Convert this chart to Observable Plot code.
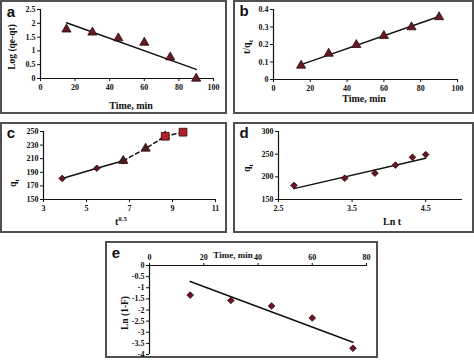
<!DOCTYPE html>
<html><head><meta charset="utf-8">
<script src="https://cdn.jsdelivr.net/npm/d3@7"></script>
<script src="https://cdn.jsdelivr.net/npm/@observablehq/plot@0.6"></script>
<style>
body{margin:0;background:#fff;}
#fig{position:relative;width:474px;height:360px;overflow:hidden;font-family:"Liberation Serif",serif;background:#fff;}
.panel{position:absolute;box-sizing:border-box;border:2px solid #505050;background:#fff;}
.lbl{position:absolute;font-weight:bold;font-size:10px;white-space:nowrap;color:#111;line-height:1;transform:translate(-50%,-50%);}
.rot{transform:translate(-50%,-50%) rotate(-90deg);}
.tag{position:absolute;font-family:"Liberation Sans",Arial,sans-serif;font-weight:bold;font-size:15px;line-height:1;transform:translate(-50%,-50%);color:#111;}
sub,sup{font-size:70%;line-height:0;}
</style>
</head><body>
<div id="fig"></div>
<script>
// ---- data ----
const timeMin = [15, 30, 45, 60, 75, 90];
const logQeQt = [1.78, 1.67, 1.46, 1.30, 0.77, 0];
const logFitX = [15, 90];
const logFitY = [2.02, 0.33];

const tOverQt = [0.080, 0.148, 0.198, 0.250, 0.299, 0.357];
const tqFitX = [15, 90];
const tqFitY = [0.085, 0.36];

const sqrtT1 = [3.87, 5.48, 6.71];
const qt1 = [181, 196, 207];
const sqrtT2 = [6.71, 7.75, 8.66];
const qt2 = [207, 225, 243];
const sqrtT3 = [8.66, 9.49];
const qt3 = [243, 249];

const lnT = [2.71, 3.40, 3.81, 4.09, 4.32, 4.50];
const qtD = [181, 197, 208, 226, 243, 249];
const qtFitX = [2.71, 4.50];
const qtFitY = [174, 241];

const timeE = [15, 30, 45, 60, 75];
const lnOneMinusF = [-1.33, -1.57, -1.82, -2.36, -3.72];
const lnFitX = [15, 75];
const lnFitY = [-0.72, -3.45];

const ticksA = {x: [0, 20, 40, 60, 80, 100], y: [0, 0.5, 1, 1.5, 2, 2.5]};
const ticksB = {x: [0, 20, 40, 60, 80, 100], y: [0, 0.1, 0.2, 0.3, 0.4]};
const ticksC = {x: [3, 5, 7, 9, 11], y: [150, 170, 190, 210, 230, 250]};
const ticksD = {x: [2.5, 3.5, 4.5], y: [150, 200, 250, 300]};
const ticksE = {x: [0, 20, 40, 60, 80], y: [0, -0.5, -1, -1.5, -2, -2.5, -3, -3.5, -4]};

// ---- helpers ----
const fig = document.getElementById("fig");
const fmt = d => String(d);
const style = {fontFamily: "'Liberation Serif', serif", fontSize: "8px", fontWeight: "bold", background: "transparent", color: "#111", overflow: "visible"};
const INK = "#111";
const MAROON = "#661b24", MAROON_DK = "#2c090d";

function panel(l, t, w, h) {
  const d = document.createElement("div");
  d.className = "panel";
  Object.assign(d.style, {left: l + "px", top: t + "px", width: w + "px", height: h + "px"});
  fig.appendChild(d);
}
function place(svg, l, t) {
  svg.style.position = "absolute";
  svg.style.left = l + "px";
  svg.style.top = t + "px";
  fig.appendChild(svg);
}
function label(html, x, y, cls, size) {
  const d = document.createElement("div");
  d.className = cls;
  d.innerHTML = html;
  d.style.left = x + "px";
  d.style.top = y + "px";
  if (size) d.style.fontSize = size + "px";
  fig.appendChild(d);
}
function idx(n) { return Array.from({length: n}, (_, i) => i); }
function fitLine(xs, ys, extra = {}) {
  return Plot.line(idx(xs.length), {x: xs, y: ys, stroke: INK, strokeWidth: 1.5, ...extra});
}
function dots(xs, ys, symbol, r, fill = MAROON) {
  return Plot.dot(idx(xs.length), {x: xs, y: ys, symbol, r, fill, stroke: MAROON_DK, strokeWidth: 0.8});
}
function axes(t, xmin, ymin, xAnchor = "bottom") {
  return [
    Plot.ruleX([xmin], {stroke: INK, strokeWidth: 1.2}),
    Plot.ruleY([ymin], {stroke: INK, strokeWidth: 1.2}),
    Plot.axisX({anchor: xAnchor, ticks: t.x, tickSize: 3, tickPadding: 3, tickFormat: fmt, label: null}),
    Plot.axisY({ticks: t.y, tickSize: 3, tickPadding: 2, tickFormat: fmt, label: null})
  ];
}

// ---- frames ----
panel(0, 0, 227, 114);
panel(233, 0, 241, 114);
panel(0, 122, 227, 111);
panel(233, 122, 241, 111);
panel(105, 241, 273, 117);

// ---- panel a ----
place(Plot.plot({
  width: 228, height: 113, marginLeft: 40, marginRight: 15, marginTop: 9, marginBottom: 35,
  x: {domain: [0, 100]}, y: {domain: [0, 2.5]}, style,
  marks: [
    ...axes(ticksA, 0, 0),
    fitLine(logFitX, logFitY),
    dots(timeMin, logQeQt, "triangle", 3.4)
  ]
}), 0, 0);

// ---- panel b ----
place(Plot.plot({
  width: 238, height: 113, marginLeft: 39, marginRight: 15, marginTop: 9, marginBottom: 34,
  x: {domain: [0, 100]}, y: {domain: [0, 0.4]}, style,
  marks: [
    ...axes(ticksB, 0, 0),
    fitLine(tqFitX, tqFitY),
    dots(timeMin, tOverQt, "triangle", 3.4)
  ]
}), 234, 0);

// ---- panel c ----
place(Plot.plot({
  width: 228, height: 110, marginLeft: 43, marginRight: 13, marginTop: 9, marginBottom: 33,
  x: {domain: [3, 11]}, y: {domain: [150, 250]}, style,
  marks: [
    ...axes(ticksC, 3, 150),
    fitLine(sqrtT1, qt1),
    fitLine(sqrtT2, qt2, {strokeDasharray: "4,3"}),
    fitLine(sqrtT3, qt3, {strokeDasharray: "4,3"}),
    dots(sqrtT1, qt1, "diamond2", 3.0, "#5e1420"),
    dots(sqrtT2, qt2, "triangle", 3.4, "#4f1a1c"),
    dots(sqrtT3, qt3, "square", 4.4, "#b3202a")
  ]
}), 0, 122);

// ---- panel d ----
place(Plot.plot({
  width: 238, height: 110, marginLeft: 44, marginRight: 10, marginTop: 9, marginBottom: 33,
  x: {domain: [2.5, 5]}, y: {domain: [150, 300]}, style,
  marks: [
    ...axes(ticksD, 2.5, 150),
    fitLine(qtFitX, qtFitY),
    dots(lnT, qtD, "diamond2", 3.0, "#6a1425")
  ]
}), 234, 122);

// ---- panel e ----
place(Plot.plot({
  width: 271, height: 116, marginLeft: 43, marginRight: 11, marginTop: 24, marginBottom: 3,
  x: {domain: [0, 80]}, y: {domain: [-4, 0]}, style,
  marks: [
    ...axes(ticksE, 0, 0, "top"),
    fitLine(lnFitX, lnFitY),
    dots(timeE, lnOneMinusF, "diamond2", 3.0, "#6a1425")
  ]
}), 106, 241);

// ---- axis titles ----
label("Log (qe-qt)", 13, 47, "lbl rot", 9.5);
label("Time, min", 131, 106, "lbl", 10);
label("t/q<sub>t</sub>", 247, 47, "lbl rot", 10);
label("Time, min", 364, 99, "lbl", 10);
label("q<sub>t</sub>", 13, 183, "lbl rot", 10);
label("t<sup>0.5</sup>", 121, 222, "lbl", 10);
label("q<sub>t</sub>", 247, 168, "lbl rot", 10);
label("Ln t", 392, 222, "lbl", 10);
label("Ln (1-F)", 126, 313, "lbl rot", 9.5);
label("Time, min", 233, 255, "lbl", 9);

// ---- panel tags ----
label("a", 11, 11, "tag");
label("b", 244, 10, "tag");
label("c", 11, 132, "tag");
label("d", 244, 132, "tag");
label("e", 116, 252, "tag");
</script>
</body></html>
